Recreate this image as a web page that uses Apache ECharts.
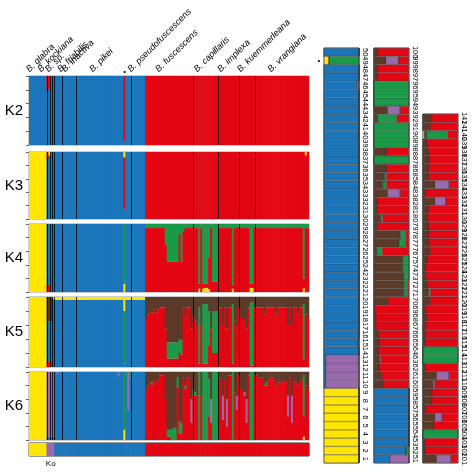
<!DOCTYPE html>
<html><head><meta charset="utf-8">
<script src="https://cdn.jsdelivr.net/npm/echarts@6/dist/echarts.min.js"></script>
<style>html,body{margin:0;padding:0;background:#fff}#c{width:474px;height:474px}</style>
</head><body><div id="c"></div>
<script>
const N = 142;
const C = {yellow:'#FFE500', blue:'#1B75BB', red:'#E30613', green:'#1A9A48', brown:'#5C3A2A', purple:'#9B6AAE'};
const individuals = Array.from({length:N},(_,i)=>String(i+1));
const groupNames = ['G','Ko','NA','WD'];
const groupEnds = [9,13,59,142];
const groupColors = [C.yellow, C.purple, C.blue, C.red];
const speciesLabels = ['B. glabra','B. kockiana','B. sp.','B. friabilis','B. inactiva','B. pikei','B. pseudofuscescens','B. fuscescens','B. capillaris','B. implexa','B. kuemmerleana','B. vrangiana'];
const speciesLabelPos = [1,6.8,10.6,16.8,19,33,52.5,66.5,86,98,108,123.5];
const speciesBounds = [9.1,10.6,11.7,12.7,16.7,23.9,51.7,83.2,95.8,106.5,114.7];
const kLabels = ['K2','K3','K4','K5','K6'];

// membership coefficients (%), as [ind,value] or [from,to,value]; remainder goes to blue (G/Ko/NA) or red (WD)
const k2Red = [[10,20],[11,20],[49,95]];
const k3Yellow = [[1,9,100],[11,5],[49,8],[141,5]];
const k3Red = [[10,12],[49,77]];
const k4Yellow = [[1,9,100],[49,12],[87,5],[89,5],[90,6],[91,6],[92,4],[104,5],[113,6],[114,6],[140,6]];
const k4Green = [[60,142,6],[49,85],[70,30],[71,76,55],[77,15],[78,55],[79,10],[87,88],[89,91,88],[92,50],[94,96,85],[104,90],[113,88],[114,88],[140,80]];
const k4Red = [[10,10],[11,10]];
const k5Yellow = [[1,9,100],[13,3],[14,59,4],[49,20]];
const k5Red = [[10,12,8]];
const k5Green = [[49,75],[71,76,23],[77,20],[78,20],[87,80],[89,91,85],[92,50],[94,96,60],[104,85],[113,90],[114,90],[140,80]];
const k5Brown = [[10,12,35],[60,142,15],[60,30],[61,25],[62,20],[63,22],[64,18],[65,22],[66,18],[70,45],[71,76,65],[77,60],[78,62],[80,28],[83,45],[84,30],[85,35],[86,40],[87,15],[88,40],[89,91,10],[92,20],[93,45],[94,96,20],[99,40],[101,45],[104,10],[105,35],[106,40],[108,30],[109,30],[110,35],[111,45],[113,8],[114,8],[120,25],[126,25],[132,40],[134,40],[137,25],[140,10],[141,25],[142,30]];
const k6Yellow = [[1,9,100],[49,15],[140,5]];
const k6Purple = [[10,13,95],[15,3],[46,6],[51,55],[83,35],[93,35],[99,35],[101,40],[106,20],[110,5],[111,35],[132,30],[134,40]];
const k6Green = [[49,85],[52,8],[63,3],[71,10],[72,10],[73,15],[74,18],[75,17],[76,15],[77,18],[78,15],[80,5],[84,10],[85,5],[87,100],[89,91,100],[92,55],[94,96,100],[104,100],[113,100],[114,100],[121,5],[140,60]];
const k6Brown = [[60,25],[61,20],[62,15],[63,15],[64,12],[65,15],[66,12],[67,5],[68,5],[69,3],[70,40],[71,85],[72,85],[73,85],[74,82],[75,83],[76,8],[77,72],[78,75],[79,8],[80,20],[81,8],[82,10],[83,40],[84,25],[85,30],[86,35],[88,35],[92,10],[93,40],[97,10],[98,10],[99,35],[100,10],[101,40],[102,5],[103,5],[105,30],[106,35],[107,5],[108,25],[109,25],[110,30],[111,40],[112,5],[115,5],[116,5],[117,8],[118,10],[119,8],[120,20],[121,15],[122,12],[123,8],[124,8],[125,12],[126,20],[127,15],[128,15],[129,15],[130,12],[131,15],[132,35],[133,8],[134,35],[135,15],[136,15],[137,18],[138,15],[139,10],[140,5],[141,20],[142,25]];

function expand(p){const a=new Array(N).fill(0);p.forEach(q=>{if(q.length===3){for(let i=q[0];i<=q[1];i++)a[i-1]=q[2];}else a[q[0]-1]=q[1];});return a;}
function groupOf(i){for(let g=0;g<groupEnds.length;g++)if(i+1<=groupEnds[g])return g;return 3;}
function buildK(exp){
  const vals={};['yellow','blue','red','green','brown','purple'].forEach(c=>vals[c]=expand(exp[c]||[]));
  for(let i=0;i<N;i++){const main=groupOf(i)===3?'red':'blue';let s=0;for(const c in vals)if(c!==main)s+=vals[c][i];vals[main][i]=Math.max(0,100-s);}
  return vals;
}
const Ks=[
 {vals:buildK({red:k2Red}),order:['blue','red']},
 {vals:buildK({yellow:k3Yellow,red:k3Red}),order:['blue','red','yellow']},
 {vals:buildK({yellow:k4Yellow,green:k4Green,red:k4Red}),order:['yellow','red','blue','green']},
 {vals:buildK({yellow:k5Yellow,red:k5Red,green:k5Green,brown:k5Brown}),order:['red','blue','green','brown','yellow']},
 {vals:buildK({yellow:k6Yellow,purple:k6Purple,green:k6Green,brown:k6Brown}),order:['yellow','blue','red','purple','green','brown']}
];
const rightOrder=['yellow','blue','brown','purple','green','red'];

function stackRender(order){
  return function(params, api){
    const x=api.value(0); const w=api.size([1,0])[0]; let cum=0; const ch=[];
    order.forEach((c,k)=>{const v=api.value(k+1); if(v<=0)return;
      const p0=api.coord([x,cum]), p1=api.coord([x,cum+v]); cum+=v;
      ch.push({type:'rect',shape:{x:p0[0]-w/2-0.3,y:p1[1],width:w+0.6,height:p0[1]-p1[1]},style:{fill:C[c]}});});
    return {type:'group',children:ch};
  };
}

const rows=[[76,145],[152,219],[224,292],[297,367],[372,440]];
const grids=[],xAxis=[],yAxis=[],series=[];
rows.forEach((r,g)=>{
  grids.push({left:29,width:280,top:r[0],height:r[1]-r[0],show:true,borderColor:'#999',borderWidth:1});
  xAxis.push({type:'category',gridIndex:g,data:individuals,show:false});
  xAxis.push({type:'value',gridIndex:g,min:0,max:N,show:false});
  yAxis.push({type:'value',gridIndex:g,min:0,max:100,interval:20,axisLabel:{show:false},splitLine:{show:false},
    axisLine:{show:true,lineStyle:{color:'#999'}},axisTick:{show:true,length:3,lineStyle:{color:'#666'}}});
  const K=Ks[g];
  series.push({type:'custom',xAxisIndex:2*g,yAxisIndex:g,silent:true,clip:true,renderItem:stackRender(K.order),
    data:individuals.map((_,i)=>[i].concat(K.order.map(c=>K.vals[c][i])))});
  series.push({type:'line',xAxisIndex:2*g+1,yAxisIndex:g,data:[[0,0]],symbol:'none',lineStyle:{opacity:0},silent:true,z:5,
    markLine:{symbol:'none',silent:true,label:{show:false},lineStyle:{color:'#000',width:0.8,type:'solid'},data:speciesBounds.map(b=>({xAxis:b}))}});
});
grids.push({left:29,width:280,top:443,height:13,show:true,borderColor:'#333',borderWidth:1});
xAxis.push({type:'category',gridIndex:5,data:individuals,show:false});
yAxis.push({type:'value',gridIndex:5,min:0,max:100,show:false});
series.push({type:'custom',xAxisIndex:10,yAxisIndex:5,silent:true,renderItem:stackRender(['yellow','purple','blue','red']),
  data:individuals.map((_,i)=>[i].concat([0,1,2,3].map(g=>groupOf(i)===g?100:0)))});
const K6=Ks[4].vals;
const cols=[[1,50,324,48],[51,100,374,48],[101,142,423,114]];
cols.forEach((cl,j)=>{
  const gi=6+j; const ids=[];for(let i=cl[0];i<=cl[1];i++)ids.push(i);
  grids.push({left:cl[2],width:35,top:cl[3],height:463-cl[3],show:true,borderColor:'#222',borderWidth:0.8});
  xAxis.push({type:'value',gridIndex:gi,min:0,max:100,show:false});
  yAxis.push({type:'category',gridIndex:gi,data:ids.map(String),position:'right',axisLine:{show:false},axisTick:{show:false},
    axisLabel:{rotate:-90,fontSize:7.5,margin:2,color:'#000',interval:0,fontFamily:'Liberation Sans'}});
  rightOrder.forEach(c=>series.push({type:'bar',xAxisIndex:11+j,yAxisIndex:gi,stack:'r'+j,barWidth:'100%',silent:true,
    itemStyle:{color:C[c],borderColor:'#333',borderWidth:0.4},data:ids.map(i=>K6[c][i-1])}));
});

const chart=echarts.init(document.getElementById('c'),null,{renderer:'canvas'});
chart.setOption({animation:false,grid:grids,xAxis,yAxis,series});
const gr=[];
speciesLabels.forEach((s,k)=>{const x=chart.convertToPixel({xAxisIndex:1},speciesLabelPos[k]);
  gr.push({type:'text',x:x,y:74,rotation:Math.PI/4,style:{text:s,fontSize:9,fontStyle:'italic',fontFamily:'Liberation Sans',fill:'#000',textAlign:'left',textVerticalAlign:'bottom'}});});
kLabels.forEach((k,g)=>{gr.push({type:'text',x:14,y:(rows[g][0]+rows[g][1])/2,style:{text:k,fontSize:15,fontFamily:'Liberation Sans',fill:'#000',textAlign:'center',textVerticalAlign:'middle'}});});
const gStart=[0,9,13,59];
groupNames.forEach((n,g)=>{
  const a=chart.convertToPixel({xAxisIndex:1},gStart[g]),b=chart.convertToPixel({xAxisIndex:1},groupEnds[g]);
  const isKo=n==='Ko';
  gr.push({type:'text',x:(a+b)/2,y:isKo?464:449.5,style:{text:n,fontSize:8,fontFamily:'Liberation Sans',
    fill:n==='NA'?'#0d2d6b':n==='WD'?'#7a0010':'#000',textAlign:'center',textVerticalAlign:'middle'}});
});
gr.push({type:'text',x:chart.convertToPixel({xAxisIndex:1},48.5),y:72,style:{text:'•',fontSize:8,fill:'#000',textAlign:'center',textVerticalAlign:'middle'}});
gr.push({type:'text',x:319,y:chart.convertToPixel({yAxisIndex:6},'49'),style:{text:'•',fontSize:8,fill:'#000',textAlign:'center',textVerticalAlign:'middle'}});
chart.setOption({graphic:gr});
</script></body></html>
